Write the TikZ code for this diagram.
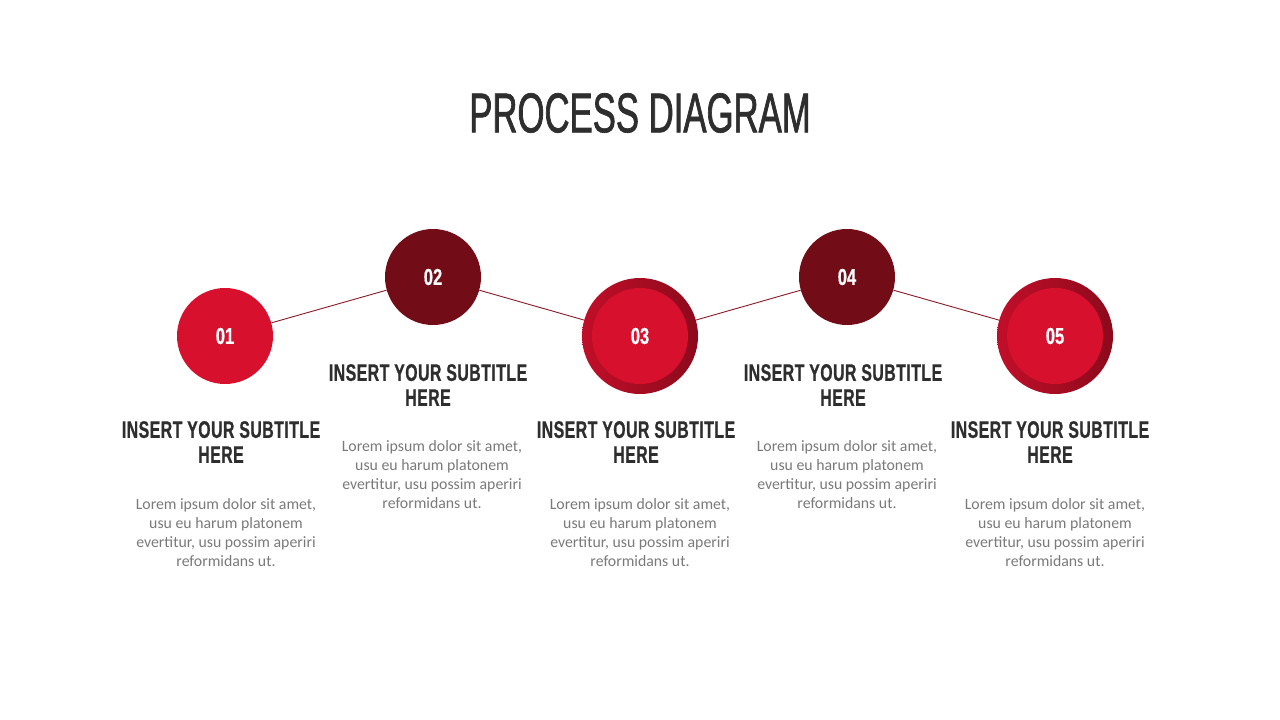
\documentclass[tikz,border=0pt]{standalone}
\usepackage{fontspec}
\setmainfont{Carlito}
\newfontfamily\headfont[FakeStretch=0.62,FakeBold=1.2]{Liberation Sans}
\newfontfamily\subfont[FakeStretch=0.66,FakeBold=0.8,LetterSpace=2]{Liberation Sans}
\newfontfamily\numfont[FakeStretch=0.72,FakeBold=0.6]{Liberation Sans}
\definecolor{redA}{HTML}{D7102E}
\definecolor{redD}{HTML}{720C16}
\definecolor{redR}{HTML}{8C0A1C}
\definecolor{lineC}{HTML}{8B1A26}
\definecolor{txt}{HTML}{2E2E2E}
\definecolor{body}{HTML}{7A7A7A}
\begin{document}
\begin{tikzpicture}[x=1pt,y=-1pt,
  stepcirc/.style={circle,minimum size=96pt,inner sep=0pt,fill=#1,text=white,font=\numfont\bfseries\fontsize{23}{23}\selectfont},
  ringcirc/.style={circle,minimum size=116pt,inner sep=0pt,shade,shading angle=135,left color=redA!90!black,right color=redR},
  subt/.style={align=center,text=txt,font=\subfont\bfseries\fontsize{24}{25}\selectfont},
  bodyt/.style={align=center,text=body,font=\fontsize{15.8}{19}\selectfont},
  conn/.style={draw=lineC,line width=0.9pt}]
\useasboundingbox (0,0) rectangle (1280,720);
\fill[white] (0,0) rectangle (1280,720);
\node[text=txt,font=\headfont\fontsize{56}{56}\selectfont] (title) at (640,113) {PROCESS DIAGRAM};
% rings
\node[ringcirc] (r3) at (640,336) {};
\node[ringcirc] (r5) at (1055,336) {};
% circles
\node[stepcirc=redA] (c1) at (225,336) {01};
\node[stepcirc=redD] (c2) at (433,277) {02};
\node[stepcirc=redA] (c3) at (640,336) {03};
\node[stepcirc=redD] (c4) at (847,277) {04};
\node[stepcirc=redA] (c5) at (1055,336) {05};
% connectors
\draw[conn] (c1) -- (c2);
\draw[conn] (c2) -- (r3);
\draw[conn] (r3) -- (c4);
\draw[conn] (c4) -- (r5);
% subtitles
\node[subt] (s1) at (221,442) {INSERT YOUR SUBTITLE\\HERE};
\node[subt] (s2) at (428,385) {INSERT YOUR SUBTITLE\\HERE};
\node[subt] (s3) at (636,442) {INSERT YOUR SUBTITLE\\HERE};
\node[subt] (s4) at (843,385) {INSERT YOUR SUBTITLE\\HERE};
\node[subt] (s5) at (1050,442) {INSERT YOUR SUBTITLE\\HERE};
% bodies
\node[bodyt] (b1) at (226,533) {Lorem ipsum dolor sit amet,\\usu eu harum platonem\\evertitur, usu possim aperiri\\reformidans ut.};
\node[bodyt] (b2) at (432,475) {Lorem ipsum dolor sit amet,\\usu eu harum platonem\\evertitur, usu possim aperiri\\reformidans ut.};
\node[bodyt] (b3) at (640,533) {Lorem ipsum dolor sit amet,\\usu eu harum platonem\\evertitur, usu possim aperiri\\reformidans ut.};
\node[bodyt] (b4) at (847,475) {Lorem ipsum dolor sit amet,\\usu eu harum platonem\\evertitur, usu possim aperiri\\reformidans ut.};
\node[bodyt] (b5) at (1055,533) {Lorem ipsum dolor sit amet,\\usu eu harum platonem\\evertitur, usu possim aperiri\\reformidans ut.};
\end{tikzpicture}
\end{document}
